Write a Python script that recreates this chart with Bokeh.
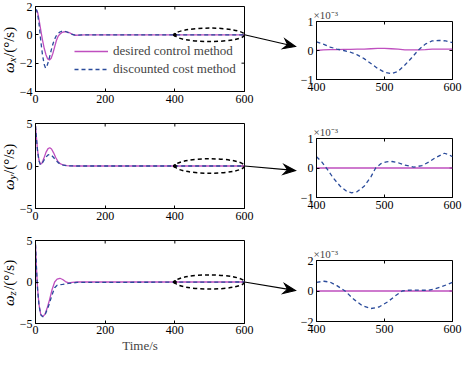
import numpy as np
from bokeh.plotting import figure
from bokeh.models import Range1d, FixedTicker
from bokeh.layouts import column, row
from bokeh.embed import file_html
from bokeh.resources import INLINE
from bokeh.core.properties import value

# ---------------- data ----------------
# omega_x (deg/s)
t_wx_des = [0, 3, 6, 10, 15, 20, 25, 30, 35, 40, 45, 50, 55, 60, 65, 70, 75, 80, 88, 95, 105, 115, 125, 140, 600]
wx_des = [1.6, 1.75, 1.6, 1.1, 0.35, -0.35, -0.95, -1.4, -1.7, -1.78, -1.65, -1.3, -0.85, -0.4, -0.1, 0.05, 0.15, 0.2, 0.23, 0.18, 0.05, -0.03, -0.02, 0.0, 0.0]
t_wx_dis = [0, 3, 6, 10, 15, 20, 25, 29, 33, 38, 45, 50, 55, 60, 65, 70, 75, 83, 90, 100, 110, 120, 135, 600]
wx_dis = [1.8, 1.75, 1.5, 0.8, -0.4, -1.4, -2.1, -2.35, -2.2, -1.8, -1.1, -0.65, -0.3, -0.05, 0.1, 0.2, 0.25, 0.27, 0.2, 0.08, 0.0, -0.03, 0.0, 0.0]

# omega_y
t_wy = [0, 3, 6, 10, 14, 18, 24, 30, 36, 41, 46, 52, 58, 65, 72, 80, 90, 110, 600]
wy_des = [4.7, 3.2, 1.8, 0.7, 0.2, 0.3, 0.9, 1.6, 2.05, 2.15, 2.0, 1.55, 1.0, 0.5, 0.25, 0.12, 0.05, 0.0, 0.0]
wy_dis = [4.7, 3.1, 1.7, 0.6, 0.15, 0.25, 0.65, 1.05, 1.3, 1.35, 1.25, 1.0, 0.7, 0.4, 0.2, 0.1, 0.04, 0.0, 0.0]

# omega_z
t_wz = [0, 3, 6, 10, 15, 21, 27, 33, 40, 47, 55, 62, 70, 78, 86, 95, 105, 120, 600]
wz_des = [4.5, 1.5, -0.8, -2.7, -3.9, -4.15, -3.9, -3.2, -2.2, -1.0, 0.0, 0.35, 0.45, 0.3, 0.05, -0.1, -0.05, 0.0, 0.0]
wz_dis = [4.5, 1.4, -0.9, -2.8, -3.95, -4.2, -4.0, -3.4, -2.6, -1.6, -0.7, -0.4, -0.32, -0.28, -0.22, -0.17, -0.12, -0.05, 0.0]

# zoomed windows (x 1e-3)
t_zx = [400, 410, 420, 430, 440, 450, 460, 470, 480, 490, 500, 510, 520, 530, 540, 550, 560, 570, 580, 590, 600]
zx_dis = [0.3, 0.22, 0.12, 0.05, 0.0, -0.06, -0.15, -0.28, -0.45, -0.62, -0.75, -0.8, -0.72, -0.5, -0.25, 0.02, 0.22, 0.33, 0.35, 0.33, 0.27]
zx_des = [0.0, 0.02, 0.03, 0.03, 0.04, 0.04, 0.05, 0.05, 0.06, 0.07, 0.07, 0.06, 0.05, 0.02, 0.02, 0.02, 0.03, 0.05, 0.05, 0.05, 0.05]

t_zy = [400, 408, 416, 425, 435, 445, 452, 460, 470, 480, 487, 495, 503, 511, 520, 530, 543, 555, 565, 575, 588, 595, 600]
zy_dis = [0.38, 0.2, -0.05, -0.35, -0.62, -0.8, -0.84, -0.8, -0.62, -0.3, 0.0, 0.15, 0.21, 0.22, 0.18, 0.1, 0.03, 0.08, 0.2, 0.35, 0.5, 0.45, 0.38]
zy_des = [0.0] * len(t_zy)

t_zz = [400, 411, 420, 430, 442, 455, 467, 480, 492, 505, 515, 526, 535, 545, 555, 565, 575, 585, 592, 600]
zz_dis = [0.57, 0.64, 0.58, 0.35, 0.0, -0.55, -0.95, -1.15, -1.05, -0.7, -0.35, 0.0, 0.05, 0.06, 0.05, 0.05, 0.15, 0.3, 0.42, 0.57]
zz_des = [0.0] * len(t_zz)

x_ticks_main = [0, 200, 400, 600]
x_ticks_zoom = [400, 500, 600]
zoom_window = (400, 600)

series_names = ["desired control method", "discounted cost method"]

FONT = "Liberation Serif"
C_DES = "#bf4fbf"
C_DIS = "#2a4b9b"
DASH = "4 3"

# layout constants (pixels)
LW, LB_L, LB_R = 297, 35, 53
RW, RB_L, RB_R = 161, 15, 10


def fmt(v):
    return f"{v:g}".replace("-", "\u2212")


def style_axes(p, xr, yr, xticks, yticks, fw, fh, font_size="12px"):
    p.grid.visible = False
    p.outline_line_color = "black"
    p.outline_line_width = 1
    p.background_fill_color = "white"
    p.border_fill_color = "white"
    for ax, ticks in ((p.below[0], xticks), (p.left[0], yticks)):
        ax.ticker = FixedTicker(ticks=ticks)
        ax.major_label_overrides = {t: fmt(t) for t in ticks}
        ax.major_tick_in = 3
        ax.major_tick_out = 0
        ax.minor_tick_line_color = None
        ax.axis_line_color = "black"
        ax.major_tick_line_color = "black"
        ax.major_label_text_font = FONT
        ax.major_label_text_font_size = font_size
        ax.major_label_text_color = "black"
        ax.major_label_standoff = 3
    # inward ticks on the top and right edges of the box
    dx = (xr[1] - xr[0]) / fw
    dy = (yr[1] - yr[0]) / fh
    p.segment(x0=xticks, y0=[yr[1]] * len(xticks), x1=xticks, y1=[yr[1] - 3 * dy] * len(xticks),
              line_color="black", line_width=1)
    p.segment(x0=[xr[1]] * len(yticks), y0=yticks, x1=[xr[1] - 3 * dx] * len(yticks), y1=yticks,
              line_color="black", line_width=1)


def make_left(t_des, y_des, t_dis, y_dis, yr, yticks, b_top, fh, b_bot, sub, ell_h, tip_px,
              legend=False, xlabel=None):
    fw = LW - LB_L - LB_R
    xr = (0, 600)
    p = figure(frame_width=fw, frame_height=fh, x_range=Range1d(*xr), y_range=Range1d(*yr),
               output_backend="svg", toolbar_location=None, title=None,
               min_border_left=LB_L, min_border_right=LB_R, min_border_top=b_top, min_border_bottom=b_bot)
    style_axes(p, xr, yr, x_ticks_main, yticks, fw, fh)
    dx = (xr[1] - xr[0]) / fw          # data units per px (x)
    dy = (yr[1] - yr[0]) / fh          # data units per px (y)
    if legend:
        p.line(t_des, y_des, color=C_DES, line_width=1.3, legend_label=series_names[0])
        p.line(t_dis, y_dis, color=C_DIS, line_width=1.3, line_dash=DASH, legend_label=series_names[1])
        lg = p.legend[0]
        lg.location = (37, 12)
        lg.label_text_font = FONT
        lg.label_text_font_size = "13px"
        lg.glyph_width = 34
        lg.glyph_height = 14
        lg.label_height = 14
        lg.spacing = 2
        lg.padding = 2
        lg.margin = 0
        lg.label_standoff = 5
        lg.background_fill_alpha = 0
        lg.border_line_alpha = 0
    else:
        p.line(t_des, y_des, color=C_DES, line_width=1.3)
        p.line(t_dis, y_dis, color=C_DIS, line_width=1.3, line_dash=DASH)
    # zoom-window ellipse
    x0, x1 = zoom_window
    p.ellipse(x=[(x0 + x1) / 2], y=[0], width=[x1 - x0], height=[ell_h], fill_color=None,
              line_color="black", line_dash="4 3", line_width=1.5)
    p.scatter([x0], [0], size=3, color="black")

    # arrow toward the zoomed panel: one patch (shaft as zero-width sliver + head)
    def to_data(px, py):
        return (px - LB_L) * dx, yr[1] - (py - b_top) * dy
    sx, sy = LB_L + fw, b_top + yr[1] / dy
    tx, ty = tip_px
    d = np.hypot(tx - sx, ty - sy)
    ux, uy = (tx - sx) / d, (ty - sy) / d
    nx, ny = -uy, ux
    L, w, notch = 12, 5, 4
    bx, by = tx - L * ux, ty - L * uy
    nxp, nyp = tx - (L - notch) * ux, ty - (L - notch) * uy
    pts = [(sx, sy), (nxp, nyp), (bx + w * nx, by + w * ny), (tx, ty),
           (bx - w * nx, by - w * ny), (nxp, nyp), (sx, sy)]
    ax_, ay_ = zip(*[to_data(*q) for q in pts])
    p.patch(list(ax_), list(ay_), fill_color="black", line_color="black", line_width=1.1,
            line_join="miter", level="overlay")

    # composed y label  omega_sub/(deg/s)
    yc = (yr[0] + yr[1]) / 2
    lx = -27 * dx
    start = yc - 24 * dy
    p.text([lx], [start], text=["\u03c9"], angle=np.pi / 2, level="overlay",
           text_font=value(FONT), text_font_style="italic", text_font_size="15px",
           text_align="left", text_baseline="middle", text_color="black")
    p.text([lx + 3 * dx], [start + 10.5 * dy], text=[sub], angle=np.pi / 2, level="overlay",
           text_font=value(FONT), text_font_style="italic", text_font_size="11px",
           text_align="left", text_baseline="middle", text_color="black")
    p.text([lx], [start + 16 * dy], text=["/(\u00b0/s)"], angle=np.pi / 2, level="overlay",
           text_font=value(FONT), text_font_size="15px",
           text_align="left", text_baseline="middle", text_color="black")
    if xlabel:
        ax = p.below[0]
        ax.axis_label = xlabel
        ax.axis_label_text_font = FONT
        ax.axis_label_text_font_style = "normal"
        ax.axis_label_text_font_size = "13px"
        ax.axis_label_standoff = 1
        ax.major_label_standoff = 2
    return p


def make_right(t, y_des, y_dis, yr, yticks, b_top, fh, b_bot):
    fw = RW - RB_L - RB_R
    xr = zoom_window
    p = figure(frame_width=fw, frame_height=fh, x_range=Range1d(*xr), y_range=Range1d(*yr),
               output_backend="svg", toolbar_location=None,
               min_border_left=RB_L, min_border_right=RB_R, min_border_top=b_top, min_border_bottom=b_bot)
    style_axes(p, xr, yr, x_ticks_zoom, yticks, fw, fh)
    p.line(t, y_des, color=C_DES, line_width=1.3)
    p.line(t, y_dis, color=C_DIS, line_width=1.3, line_dash=DASH)
    p.title.text = "\u00d710\u207b\u00b3"
    p.title.align = "left"
    p.title.offset = -3
    p.title.standoff = 1
    p.title.text_font = FONT
    p.title.text_font_style = "normal"
    p.title.text_font_size = "11px"
    return p


# left column (heights 117 / 117 / 120)
l1 = make_left(t_wx_des, wx_des, t_wx_dis, wx_dis, (-4, 2), [-4, -2, 0, 2], 6, 85, 26, "x", 0.95,
               (295, 46), legend=True)
l2 = make_left(t_wy, wy_des, t_wy, wy_dis, (-5, 5), [-5, 0, 5], 6, 85, 26, "y", 1.7, (295, 53))
l3 = make_left(t_wz, wz_des, t_wz, wz_dis, (-5, 5), [-5, 0, 5], 6, 83, 31, "z", 1.7, (295, 56),
               xlabel="Time/s")
# right column (heights 117 / 117 / 120)
r1 = make_right(t_zx, zx_des, zx_dis, (-1, 1), [-1, 0, 1], 21, 58, 38)
r2 = make_right(t_zy, zy_des, zy_dis, (-1, 1), [-1, 0, 1], 21, 59, 37)
r3 = make_right(t_zz, zz_des, zz_dis, (-2, 2), [-2, 0, 2], 26, 61, 33)

layout = row(column(l1, l2, l3), column(r1, r2, r3))

open("out.html", "w").write(file_html(layout, INLINE))
